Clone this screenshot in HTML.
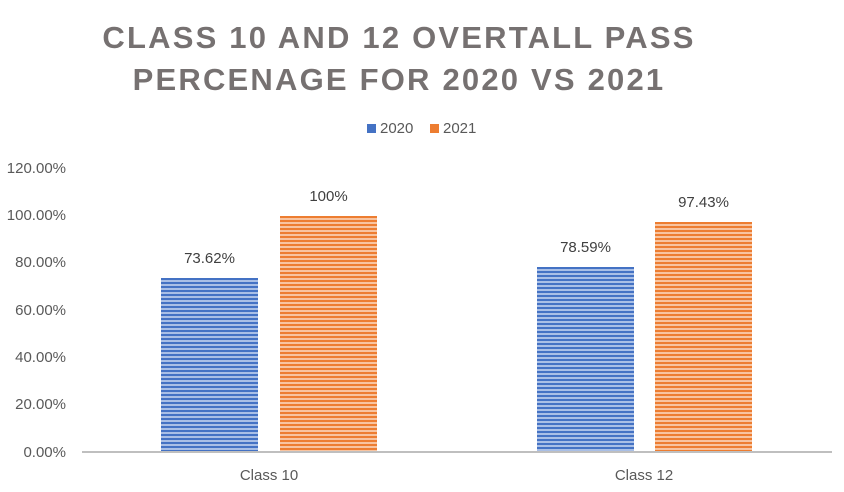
<!DOCTYPE html>
<html><head><style>
body{margin:0;width:844px;height:492px;background:#fff;font-family:"Liberation Sans",sans-serif;position:relative;overflow:hidden}
.t{position:absolute;left:0;width:798px;text-align:center;font-weight:bold;font-size:31px;color:#767171;letter-spacing:2.2px}
.y{position:absolute;left:0;width:66px;text-align:right;font-size:15px;color:#595959}
.b{position:absolute;width:97px}
.bl{background:repeating-linear-gradient(to bottom,#4472c4 0,#4472c4 2px,#a9bfe6 2px,#a9bfe6 4px)}
.or{background:repeating-linear-gradient(to bottom,#ed7d31 0,#ed7d31 2px,#f8c4a0 2px,#f8c4a0 4px)}
.l{position:absolute;width:97px;text-align:center;font-size:15px;color:#404040}
.x{position:absolute;font-size:15px;color:#595959;width:120px;text-align:center}
</style></head><body>
<div class="t" style="top:20px">CLASS 10 AND 12 OVERTALL PASS</div>
<div class="t" style="top:62px">PERCENAGE FOR 2020 VS 2021</div>
<div style="position:absolute;top:124px;left:367px;width:9px;height:9px;background:#4472c4"></div>
<div style="position:absolute;top:120px;left:380px;font-size:15px;color:#595959">2020</div>
<div style="position:absolute;top:124px;left:430px;width:9px;height:9px;background:#ed7d31"></div>
<div style="position:absolute;top:120px;left:443px;font-size:15px;color:#595959">2021</div>
<div class="y" style="top:160px">120.00%</div>
<div class="y" style="top:207px">100.00%</div>
<div class="y" style="top:254px">80.00%</div>
<div class="y" style="top:302px">60.00%</div>
<div class="y" style="top:349px">40.00%</div>
<div class="y" style="top:396px">20.00%</div>
<div class="y" style="top:444px">0.00%</div>
<div class="b bl" style="left:161px;top:278px;height:174px"></div>
<div class="b or" style="left:280px;top:216px;height:236px"></div>
<div class="b bl" style="left:537px;top:267px;height:185px"></div>
<div class="b or" style="left:655px;top:222px;height:230px"></div>
<div class="l" style="left:161px;top:250px">73.62%</div>
<div class="l" style="left:280px;top:188px">100%</div>
<div class="l" style="left:537px;top:239px">78.59%</div>
<div class="l" style="left:655px;top:194px">97.43%</div>
<div style="position:absolute;left:82px;top:451px;width:750px;height:2px;background:#bfbfbf"></div>
<div class="x" style="left:209px;top:467px">Class 10</div>
<div class="x" style="left:584px;top:467px">Class 12</div>
</body></html>
